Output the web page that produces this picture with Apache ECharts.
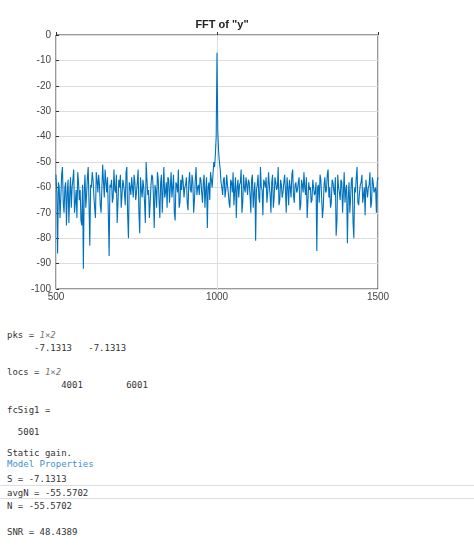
<!DOCTYPE html>
<html><head><meta charset="utf-8">
<script src="https://cdn.jsdelivr.net/npm/echarts@6/dist/echarts.min.js"></script>
<style>
body{margin:0;background:#fff;width:474px;height:560px;overflow:hidden;position:relative;font-family:"DejaVu Sans Mono",monospace;}
#c{position:absolute;left:0;top:0;width:474px;height:310px;}
.t{position:absolute;left:7px;font-size:9px;color:#333;white-space:pre;line-height:11px;}
.i{font-style:italic;color:#777;}
.sep{position:absolute;left:0;width:474px;height:1px;background:#ddd;}
</style></head><body>
<div id="c"></div>
<div class="t" style="top:330px">pks = <span class="i">1×2</span></div>
<div class="t" style="top:343px">     -7.1313   -7.1313</div>
<div class="t" style="top:367px">locs = <span class="i">1×2</span></div>
<div class="t" style="top:380px">          4001        6001</div>
<div class="t" style="top:405px">fcSig1 =</div>
<div class="t" style="top:427px">  5001</div>
<div class="t" style="top:448px">Static gain.</div>
<div class="t" style="top:459px;color:#3d8fd1">Model Properties</div>
<div class="t" style="top:474px">S = -7.1313</div>
<div class="sep" style="top:485px"></div>
<div class="t" style="top:488px">avgN = -55.5702</div>
<div class="sep" style="top:498px"></div>
<div class="t" style="top:501px">N = -55.5702</div>
<div class="t" style="top:527px">SNR = 48.4389</div>
<script>
// samples on 500,505,...,1500
const startFreq = 500, stepFreq = 5;
const magnitude = [
-55,-86,-60,-64,-52,-70,-58,-62,-74,-56,
-60,-53,-66,-72,-58,-61,-75,-92,-55,-63,
-52,-83,-60,-57,-68,-54,-62,-59,-70,-51,
-64,-58,-56,-87,-60,-66,-53,-62,-74,-57,
-55,-63,-59,-67,-52,-80,-60,-56,-64,-58,
-62,-53,-78,-61,-57,-66,-50,-63,-72,-59,
-56,-76,-61,-54,-65,-58,-70,-52,-62,-68,
-57,-60,-64,-55,-73,-59,-53,-66,-61,-58,
-60,-56,-69,-54,-62,-58,-65,-52,-60,-63,
-57,-66,-55,-61,-76,-58,-54,-60,-50,-47,
-7,
-46,-53,-60,-57,-64,-55,-62,-68,-58,
-54,-61,-72,-57,-59,-53,-66,-60,-56,-63,
-58,-70,-55,-62,-81,-59,-64,-52,-61,-57,
-60,-66,-54,-63,-58,-68,-56,-61,-52,-65,
-59,-62,-55,-70,-60,-57,-64,-53,-66,-58,
-61,-56,-67,-59,-54,-63,-72,-58,-60,-65,
-57,-62,-85,-59,-55,-64,-68,-56,-61,-53,
-60,-66,-58,-63,-79,-55,-62,-57,-70,-54,
-61,-82,-58,-64,-56,-80,-62,-52,-67,-59,
-55,-63,-71,-57,-60,-54,-66,-58,-62,-70,
-56];
// samples on 502.5,507.5,...,1497.5
const startFreqB = 502.5;
const magnitudeB = [
-62,-58,-72,-55,-66,-60,-75,-57,-63,-68,
-57,-70,-61,-54,-65,-73,-59,-62,-68,-56,
-66,-59,-54,-63,-72,-57,-55,-67,-60,-58,
-53,-62,-70,-59,-57,-64,-61,-55,-66,-60,
-68,-57,-62,-54,-71,-58,-63,-60,-55,-65,
-58,-70,-56,-64,-60,-74,-57,-61,-66,-55,
-63,-59,-68,-57,-72,-55,-61,-64,-58,-56,
-66,-54,-60,-70,-58,-62,-68,-57,-55,-64,
-59,-66,-58,-61,-55,-70,-57,-63,-59,-56,
-62,-58,-68,-56,-60,-65,-57,-55,-52,-40,
-38,-50,-58,-63,-56,-61,-59,-66,-57,-62,
-67,-56,-60,-64,-58,-70,-55,-62,-59,-57,
-63,-57,-68,-58,-61,-55,-66,-60,-71,-58,
-56,-62,-59,-70,-55,-64,-58,-60,-67,-57,
-64,-58,-61,-56,-67,-60,-55,-63,-59,-62,
-58,-69,-57,-62,-60,-56,-65,-61,-66,-57,
-63,-58,-60,-66,-57,-72,-59,-62,-55,-64,
-68,-57,-61,-56,-73,-60,-65,-58,-62,-66,
-59,-64,-70,-57,-74,-60,-56,-66,-62,-58,
-66,-60,-57,-64,-59,-68,-56,-62,-60,-58];

let pts = magnitude.map((v,i)=>[startFreq+stepFreq*i, v]);
magnitudeB.forEach((v,i)=>pts.push([startFreqB+stepFreq*i, v]));
pts.sort((a,b)=>a[0]-b[0]);

const chart = echarts.init(document.getElementById('c'));
const lab = {color:'#444', fontSize:10, fontFamily:'Liberation Sans, Arial'};
chart.setOption({
  animation:false,
  title:{text:'FFT of "y"', left:217, top:14, textAlign:'center',
    textStyle:{fontSize:11, fontWeight:'bold', color:'#222', fontFamily:'Liberation Sans, Arial'}},
  grid:{left:56, right:96, top:35, bottom:21, show:true, borderColor:'#333', borderWidth:1},
  xAxis:{type:'value', min:500, max:1500, interval:500,
    axisLine:{show:false}, axisTick:{inside:true, length:3, lineStyle:{color:'#333'}},
    axisLabel:Object.assign({margin:3, formatter:v=>String(v)}, lab),
    splitLine:{show:true, lineStyle:{color:'#ddd'}}},
  yAxis:{type:'value', min:-100, max:0, interval:10,
    axisLine:{show:false}, axisTick:{show:true, inside:true, length:3, lineStyle:{color:'#333'}},
    axisLabel:Object.assign({margin:5}, lab),
    splitLine:{show:true, lineStyle:{color:'#ddd'}}},
  series:[{type:'line', data:pts, showSymbol:false, lineStyle:{color:'#0072bd', width:1.1}}]
});
</script>
</body></html>
